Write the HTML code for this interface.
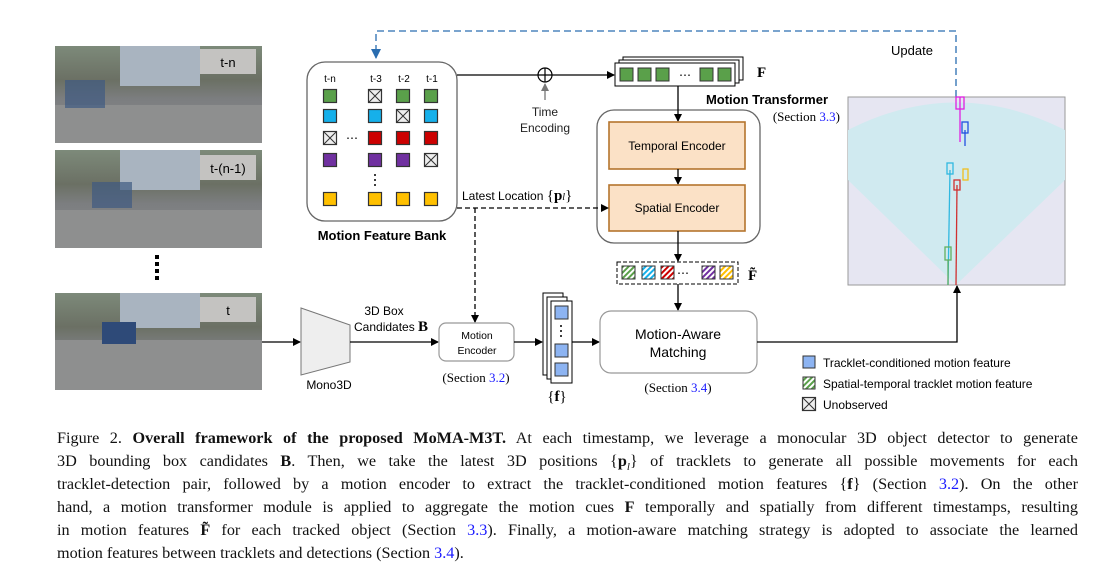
<!DOCTYPE html><html><head><meta charset="utf-8"><style>
body{margin:0;background:#fff;width:1103px;height:578px;overflow:hidden;position:relative;font-family:"Liberation Sans",sans-serif}
svg{position:absolute;left:0;top:0}
.cap{position:absolute;left:57px;top:427px;width:1021px;font-family:"Liberation Serif",serif;font-size:16.2px;line-height:23px;color:#111}
.cap div{text-align:justify;text-align-last:justify;white-space:nowrap;height:23px}
.cap div.l{text-align-last:left}
.b{color:#1a1aff}
sub{line-height:0;font-size:11px}
</style></head><body>
<svg width="1103" height="430" viewBox="0 0 1103 430" font-family="Liberation Sans, sans-serif">
<defs>
<marker id="a" markerWidth="8" markerHeight="8" refX="7" refY="4" orient="auto" markerUnits="userSpaceOnUse"><path d="M0,0L8,4L0,8z" fill="#000"/></marker>
<marker id="ab" markerWidth="10" markerHeight="10" refX="9" refY="5" orient="auto" markerUnits="userSpaceOnUse"><path d="M0,0L10,5L0,10z" fill="#2a6db0"/></marker>
<marker id="ag" markerWidth="8" markerHeight="8" refX="7" refY="4" orient="auto" markerUnits="userSpaceOnUse"><path d="M0,0L8,4L0,8z" fill="#777"/></marker>
<linearGradient id="ph" x1="0" y1="0" x2="0" y2="1"><stop offset="0" stop-color="#7d8a7a"/><stop offset="0.35" stop-color="#6b7064"/><stop offset="0.55" stop-color="#7c7e80"/><stop offset="1" stop-color="#8a8b8d"/></linearGradient>
<pattern id="hg" width="4" height="4" patternUnits="userSpaceOnUse" patternTransform="rotate(45)"><rect width="4" height="4" fill="#fff"/><rect width="2" height="4" fill="#5aa04a"/></pattern>
<pattern id="hc" width="4" height="4" patternUnits="userSpaceOnUse" patternTransform="rotate(45)"><rect width="4" height="4" fill="#fff"/><rect width="2" height="4" fill="#16b0ea"/></pattern>
<pattern id="hr" width="4" height="4" patternUnits="userSpaceOnUse" patternTransform="rotate(45)"><rect width="4" height="4" fill="#fff"/><rect width="2" height="4" fill="#c00"/></pattern>
<pattern id="hp" width="4" height="4" patternUnits="userSpaceOnUse" patternTransform="rotate(45)"><rect width="4" height="4" fill="#fff"/><rect width="2" height="4" fill="#7030a0"/></pattern>
<pattern id="hy" width="4" height="4" patternUnits="userSpaceOnUse" patternTransform="rotate(45)"><rect width="4" height="4" fill="#fff"/><rect width="2" height="4" fill="#ffc000"/></pattern>
<g id="x"><rect x="-6.5" y="-6.5" width="13" height="13" fill="#eee" stroke="#333" stroke-width="1.2"/><path d="M-6,-6L6,6M6,-6L-6,6" stroke="#333" stroke-width="1"/></g>
</defs>
<g>
<rect x="55" y="46" width="207" height="97" fill="url(#ph)"/>
<rect x="120" y="46" width="80" height="40" fill="#a9b4c0"/>
<rect x="55" y="105" width="207" height="38" fill="#8e8f8f"/>
<rect x="200" y="49" width="56" height="25" fill="#c4c3c1"/><text x="228" y="67" text-anchor="middle" font-size="13">t-n</text>
<rect x="55" y="150" width="207" height="98" fill="url(#ph)"/>
<rect x="120" y="150" width="80" height="40" fill="#a9b4c0"/>
<rect x="55" y="210" width="207" height="38" fill="#8e8f8f"/>
<rect x="200" y="155" width="56" height="25" fill="#c4c3c1"/><text x="228" y="173" text-anchor="middle" font-size="13">t-(n-1)</text>
<rect x="55" y="293" width="207" height="97" fill="url(#ph)"/>
<rect x="120" y="293" width="80" height="35" fill="#a9b4c0"/>
<rect x="55" y="340" width="207" height="50" fill="#8e8f8f"/>
<rect x="200" y="297" width="56" height="25" fill="#c4c3c1"/><text x="228" y="315" text-anchor="middle" font-size="13">t</text>
<rect x="155" y="255" width="4" height="4"/><rect x="155" y="262" width="4" height="4"/><rect x="155" y="269" width="4" height="4"/><rect x="155" y="276" width="4" height="4"/>
<rect x="65" y="80" width="40" height="28" fill="#3e5a82" opacity=".7"/><rect x="92" y="182" width="40" height="26" fill="#3e5a82" opacity=".7"/><rect x="102" y="322" width="34" height="22" fill="#2e4a78"/>
</g>
<path d="M956,97V31H376V58" fill="none" stroke="#2a6db0" stroke-width="1.3" stroke-dasharray="7,4" marker-end="url(#ab)"/>
<text x="912" y="55" text-anchor="middle" font-size="13">Update</text>
<rect x="307" y="62" width="150" height="159" rx="18" fill="#fff" stroke="#666" stroke-width="1.3"/>
<g font-size="10" text-anchor="middle"><text x="330" y="82">t-n</text><text x="376" y="82">t-3</text><text x="404" y="82">t-2</text><text x="432" y="82">t-1</text></g>
<g stroke="#333" stroke-width="1.2">
<rect x="323.5" y="89.5" width="13" height="13" fill="#5aa04a"/><rect x="396.5" y="89.5" width="13" height="13" fill="#5aa04a"/><rect x="424.5" y="89.5" width="13" height="13" fill="#5aa04a"/>
<rect x="323.5" y="109.5" width="13" height="13" fill="#16b0ea"/><rect x="368.5" y="109.5" width="13" height="13" fill="#16b0ea"/><rect x="424.5" y="109.5" width="13" height="13" fill="#16b0ea"/>
<rect x="368.5" y="131.5" width="13" height="13" fill="#c00"/><rect x="396.5" y="131.5" width="13" height="13" fill="#c00"/><rect x="424.5" y="131.5" width="13" height="13" fill="#c00"/>
<rect x="323.5" y="153.5" width="13" height="13" fill="#7030a0"/><rect x="368.5" y="153.5" width="13" height="13" fill="#7030a0"/><rect x="396.5" y="153.5" width="13" height="13" fill="#7030a0"/>
<rect x="323.5" y="192.5" width="13" height="13" fill="#ffc000"/><rect x="368.5" y="192.5" width="13" height="13" fill="#ffc000"/><rect x="396.5" y="192.5" width="13" height="13" fill="#ffc000"/><rect x="424.5" y="192.5" width="13" height="13" fill="#ffc000"/>
</g>
<use href="#x" x="375" y="96"/><use href="#x" x="403" y="116"/><use href="#x" x="330" y="138"/><use href="#x" x="431" y="160"/>
<text x="352" y="142" text-anchor="middle" font-size="12">⋯</text>
<g fill="#000"><circle cx="375" cy="175" r="1"/><circle cx="375" cy="180" r="1"/><circle cx="375" cy="185" r="1"/></g>
<text x="382" y="240" text-anchor="middle" font-size="13" font-weight="bold">Motion Feature Bank</text>
<line x1="457" y1="75" x2="614" y2="75" stroke="#000" stroke-width="1.3" marker-end="url(#a)"/>
<circle cx="545" cy="75" r="7" fill="#fff" stroke="#000" stroke-width="1.2"/><path d="M538,75H552M545,68V82" stroke="#000" stroke-width="1.2"/>
<line x1="545" y1="100" x2="545" y2="84" stroke="#777" stroke-width="1.3" marker-end="url(#ag)"/>
<text x="545" y="116" text-anchor="middle" font-size="12" fill="#222">Time</text><text x="545" y="132" text-anchor="middle" font-size="12" fill="#222">Encoding</text>
<rect x="623" y="57" width="120" height="23" fill="#fff" stroke="#000"/><rect x="619" y="60" width="120" height="23" fill="#fff" stroke="#000"/><rect x="615" y="63" width="120" height="23" fill="#fff" stroke="#000"/>
<g fill="#5aa04a" stroke="#333"><rect x="620" y="68" width="13" height="13"/><rect x="638" y="68" width="13" height="13"/><rect x="656" y="68" width="13" height="13"/><rect x="700" y="68" width="13" height="13"/><rect x="718" y="68" width="13" height="13"/></g>
<text x="685" y="79" text-anchor="middle" font-size="12">⋯</text>
<text x="757" y="77" font-family="Liberation Serif, serif" font-weight="bold" font-size="15">F</text>
<text x="767" y="104" text-anchor="middle" font-size="13" font-weight="bold">Motion Transformer</text>
<text x="840" y="121" text-anchor="end" font-family="Liberation Serif, serif" font-size="13">(Section <tspan fill="#1a1aff">3.3</tspan>)</text>
<rect x="597" y="110" width="163" height="133" rx="17" fill="#fff" stroke="#666" stroke-width="1.3"/>
<line x1="678" y1="86" x2="678" y2="121" stroke="#000" stroke-width="1.3" marker-end="url(#a)"/>
<rect x="609" y="122" width="136" height="47" fill="#fbe1c6" stroke="#b5742d" stroke-width="1.6"/>
<text x="677" y="150" text-anchor="middle" font-size="12">Temporal Encoder</text>
<line x1="678" y1="169" x2="678" y2="184" stroke="#000" stroke-width="1.3" marker-end="url(#a)"/>
<rect x="609" y="185" width="136" height="46" fill="#fbe1c6" stroke="#b5742d" stroke-width="1.6"/>
<text x="677" y="212" text-anchor="middle" font-size="12">Spatial Encoder</text>
<line x1="678" y1="231" x2="678" y2="261" stroke="#000" stroke-width="1.3" marker-end="url(#a)"/>
<text x="462" y="200" font-size="12">Latest Location <tspan font-family="Liberation Serif, serif" font-size="15">{<tspan font-weight="bold">p</tspan><tspan font-style="italic" font-size="10">l</tspan>}</tspan></text>
<path d="M457,208H608" stroke="#000" stroke-width="1.3" stroke-dasharray="5,3" fill="none" marker-end="url(#a)"/>
<path d="M475,208V322" stroke="#000" stroke-width="1.3" stroke-dasharray="5,3" fill="none" marker-end="url(#a)"/>
<rect x="617" y="262" width="121" height="22" fill="#fff" stroke="#000" stroke-dasharray="4,2"/>
<g stroke="#333"><rect x="622" y="266" width="13" height="13" fill="url(#hg)"/><rect x="642" y="266" width="13" height="13" fill="url(#hc)"/><rect x="661" y="266" width="13" height="13" fill="url(#hr)"/><rect x="702" y="266" width="13" height="13" fill="url(#hp)"/><rect x="720" y="266" width="13" height="13" fill="url(#hy)"/></g>
<text x="683" y="277" text-anchor="middle" font-size="12">⋯</text>
<text x="748" y="280" font-family="Liberation Serif, serif" font-weight="bold" font-size="15">F̃</text>
<line x1="678" y1="284" x2="678" y2="310" stroke="#000" stroke-width="1.3" marker-end="url(#a)"/>
<line x1="262" y1="342" x2="300" y2="342" stroke="#000" stroke-width="1.3" marker-end="url(#a)"/>
<path d="M301,308L350,325V362L301,375z" fill="#eee" stroke="#777"/>
<text x="329" y="389" text-anchor="middle" font-size="12">Mono3D</text>
<line x1="350" y1="342" x2="438" y2="342" stroke="#000" stroke-width="1.3" marker-end="url(#a)"/>
<text x="384" y="315" text-anchor="middle" font-size="12">3D Box</text>
<text x="354" y="331" font-size="12">Candidates <tspan font-family="Liberation Serif, serif" font-weight="bold" font-size="15">B</tspan></text>
<rect x="439" y="323" width="75" height="38" rx="7" fill="#fff" stroke="#999" stroke-width="1.2"/>
<text x="477" y="339" text-anchor="middle" font-size="10.5">Motion</text><text x="477" y="354" text-anchor="middle" font-size="10.5">Encoder</text>
<text x="476" y="382" text-anchor="middle" font-family="Liberation Serif, serif" font-size="13">(Section <tspan fill="#1a1aff">3.2</tspan>)</text>
<line x1="514" y1="342" x2="542" y2="342" stroke="#000" stroke-width="1.3" marker-end="url(#a)"/>
<rect x="543" y="293" width="20" height="82" fill="#fff" stroke="#000"/><rect x="547" y="297" width="20" height="82" fill="#fff" stroke="#000"/><rect x="551" y="301" width="21" height="82" fill="#fff" stroke="#000"/>
<g fill="#8db4f2" stroke="#333"><rect x="555" y="306" width="13" height="13"/><rect x="555" y="344" width="13" height="13"/><rect x="555" y="363" width="13" height="13"/></g>
<g fill="#000"><circle cx="561" cy="326" r="1"/><circle cx="561" cy="331" r="1"/><circle cx="561" cy="336" r="1"/></g>
<text x="557" y="401" text-anchor="middle" font-family="Liberation Serif, serif" font-size="15">{<tspan font-weight="bold">f</tspan>}</text>
<line x1="572" y1="342" x2="599" y2="342" stroke="#000" stroke-width="1.3" marker-end="url(#a)"/>
<rect x="600" y="311" width="157" height="62" rx="11" fill="#fff" stroke="#999" stroke-width="1.2"/>
<text x="678" y="339" text-anchor="middle" font-size="14">Motion-Aware</text><text x="678" y="357" text-anchor="middle" font-size="14">Matching</text>
<text x="678" y="392" text-anchor="middle" font-family="Liberation Serif, serif" font-size="13">(Section <tspan fill="#1a1aff">3.4</tspan>)</text>
<path d="M757,342H957V286" fill="none" stroke="#000" stroke-width="1.3" marker-end="url(#a)"/>
<rect x="848" y="97" width="217" height="188" fill="#e6e6f2" stroke="#999"/>
<path d="M956,285L848,180V130Q956,75 1065,130V180z" fill="#d0eaf0"/>
<g fill="none" stroke-width="1.3">
<path d="M960,97V142" stroke="#e020e0"/><rect x="956" y="97" width="8" height="12" stroke="#e020e0"/>
<path d="M965,130V146" stroke="#2050e0"/><rect x="962" y="122" width="6" height="11" stroke="#2050e0"/>
<path d="M950,170L948,285" stroke="#30b8e0"/><rect x="947" y="163" width="6" height="11" stroke="#30b8e0"/>
<path d="M957,185L956,285" stroke="#d03030"/><rect x="954" y="180" width="6" height="10" stroke="#d03030"/>
<rect x="963" y="169" width="5" height="11" stroke="#f0c020"/>
<rect x="945" y="247" width="6" height="13" stroke="#60b060"/><path d="M948,260V285" stroke="#60b060"/>
</g>
<rect x="803" y="356" width="12" height="12" fill="#8db4f2" stroke="#333"/>
<text x="823" y="367" font-size="12">Tracklet-conditioned motion feature</text>
<rect x="803" y="377" width="12" height="12" fill="url(#hg)" stroke="#333"/>
<text x="823" y="388" font-size="12">Spatial-temporal tracklet motion feature</text>
<use href="#x" x="809" y="404"/>
<text x="823" y="409" font-size="12">Unobserved</text>
</svg>
<div class="cap">
<div>Figure 2. <b>Overall framework of the proposed MoMA-M3T.</b> At each timestamp, we leverage a monocular 3D object detector to generate</div>
<div>3D bounding box candidates <b>B</b>. Then, we take the latest 3D positions {<b>p</b><i><sub>l</sub></i>} of tracklets to generate all possible movements for each</div>
<div>tracklet-detection pair, followed by a motion encoder to extract the tracklet-conditioned motion features {<b>f</b>} (Section <span class="b">3.2</span>). On the other</div>
<div>hand, a motion transformer module is applied to aggregate the motion cues <b>F</b> temporally and spatially from different timestamps, resulting</div>
<div>in motion features <b>F̃</b> for each tracked object (Section <span class="b">3.3</span>). Finally, a motion-aware matching strategy is adopted to associate the learned</div>
<div class="l">motion features between tracklets and detections (Section <span class="b">3.4</span>).</div>
</div>
</body></html>
